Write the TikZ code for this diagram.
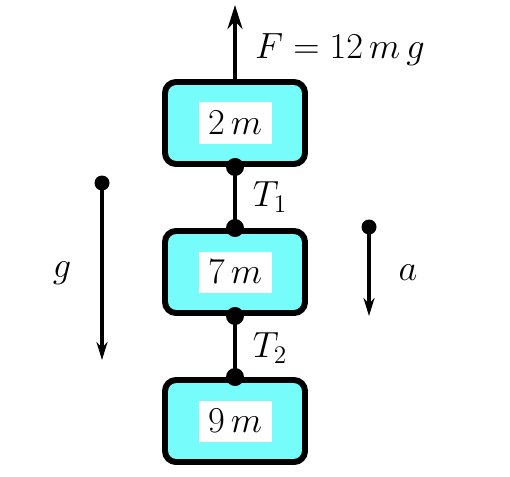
\documentclass[tikz,border=0pt]{standalone}
\usepackage{tikz,xcolor}
\usetikzlibrary{arrows.meta, calc}
\definecolor{blockcyan}{RGB}{119,252,252}

\begin{document}
\begin{tikzpicture}[scale=1.0, font=\fontsize{21}{25}\selectfont,
	block/.style={draw, line width=3.4pt, fill=blockcyan, rounded corners=0.22cm, minimum width=2.8cm, minimum height=1.64cm},
	tag/.style={fill=white, inner sep=0pt, minimum width=1.46cm, minimum height=0.82cm},
	rope/.style={line width=2.8pt},
	knot/.style={circle, fill=black, inner sep=0pt, minimum size=0.36cm},
	pin/.style={circle, fill=black, inner sep=0pt, minimum size=0.3cm},
	force/.style={line width=2.8pt, -{Stealth[length=0.48cm, width=0.3cm]}},
	motion/.style={line width=2.2pt, -{Stealth[length=0.36cm, width=0.22cm]}}]

	\useasboundingbox (0,0) rectangle (10.2,9.52);

	% blocks
	\node[block] (m2) at (4.7,7.06) {};
	\node[block] (m7) at (4.7,4.08) {};
	\node[block] (m9) at (4.7,1.10) {};
	\node[tag] (m2tag) at (m2) {$2\,m$};
	\node[tag] (m7tag) at (m7) {$7\,m$};
	\node[tag] (m9tag) at (m9) {$9\,m$};

	% ropes with knots
	\draw[rope] (m2.south) -- (m7.north);
	\draw[rope] (m7.south) -- (m9.north);
	\node[knot] (k1) at (m2.south) {};
	\node[knot] (k2) at (m7.north) {};
	\node[knot] (k3) at (m7.south) {};
	\node[knot] (k4) at (m9.north) {};
	\node (T1) at (5.4,5.58) {$T_1$};
	\node (T2) at (5.4,2.56) {$T_2$};

	% pulling force
	\coordinate (Ftip) at (4.7,9.42);
	\draw[force] (m2.north) -- (Ftip);
	\node (Flabel) at (6.8,8.52) {$F = 12\,m\,g$};

	% gravity
	\node[pin] (gtop) at (2.04,5.86) {};
	\coordinate (gtip) at (2.04,2.32);
	\draw[motion] (gtop.center) -- (gtip);
	\node (glabel) at (1.24,4.06) {$g$};

	% acceleration
	\node[pin] (atop) at (7.38,4.98) {};
	\coordinate (atip) at (7.38,3.20);
	\draw[motion] (atop.center) -- (atip);
	\node (alabel) at (8.16,4.06) {$a$};

\end{tikzpicture}
\end{document}
